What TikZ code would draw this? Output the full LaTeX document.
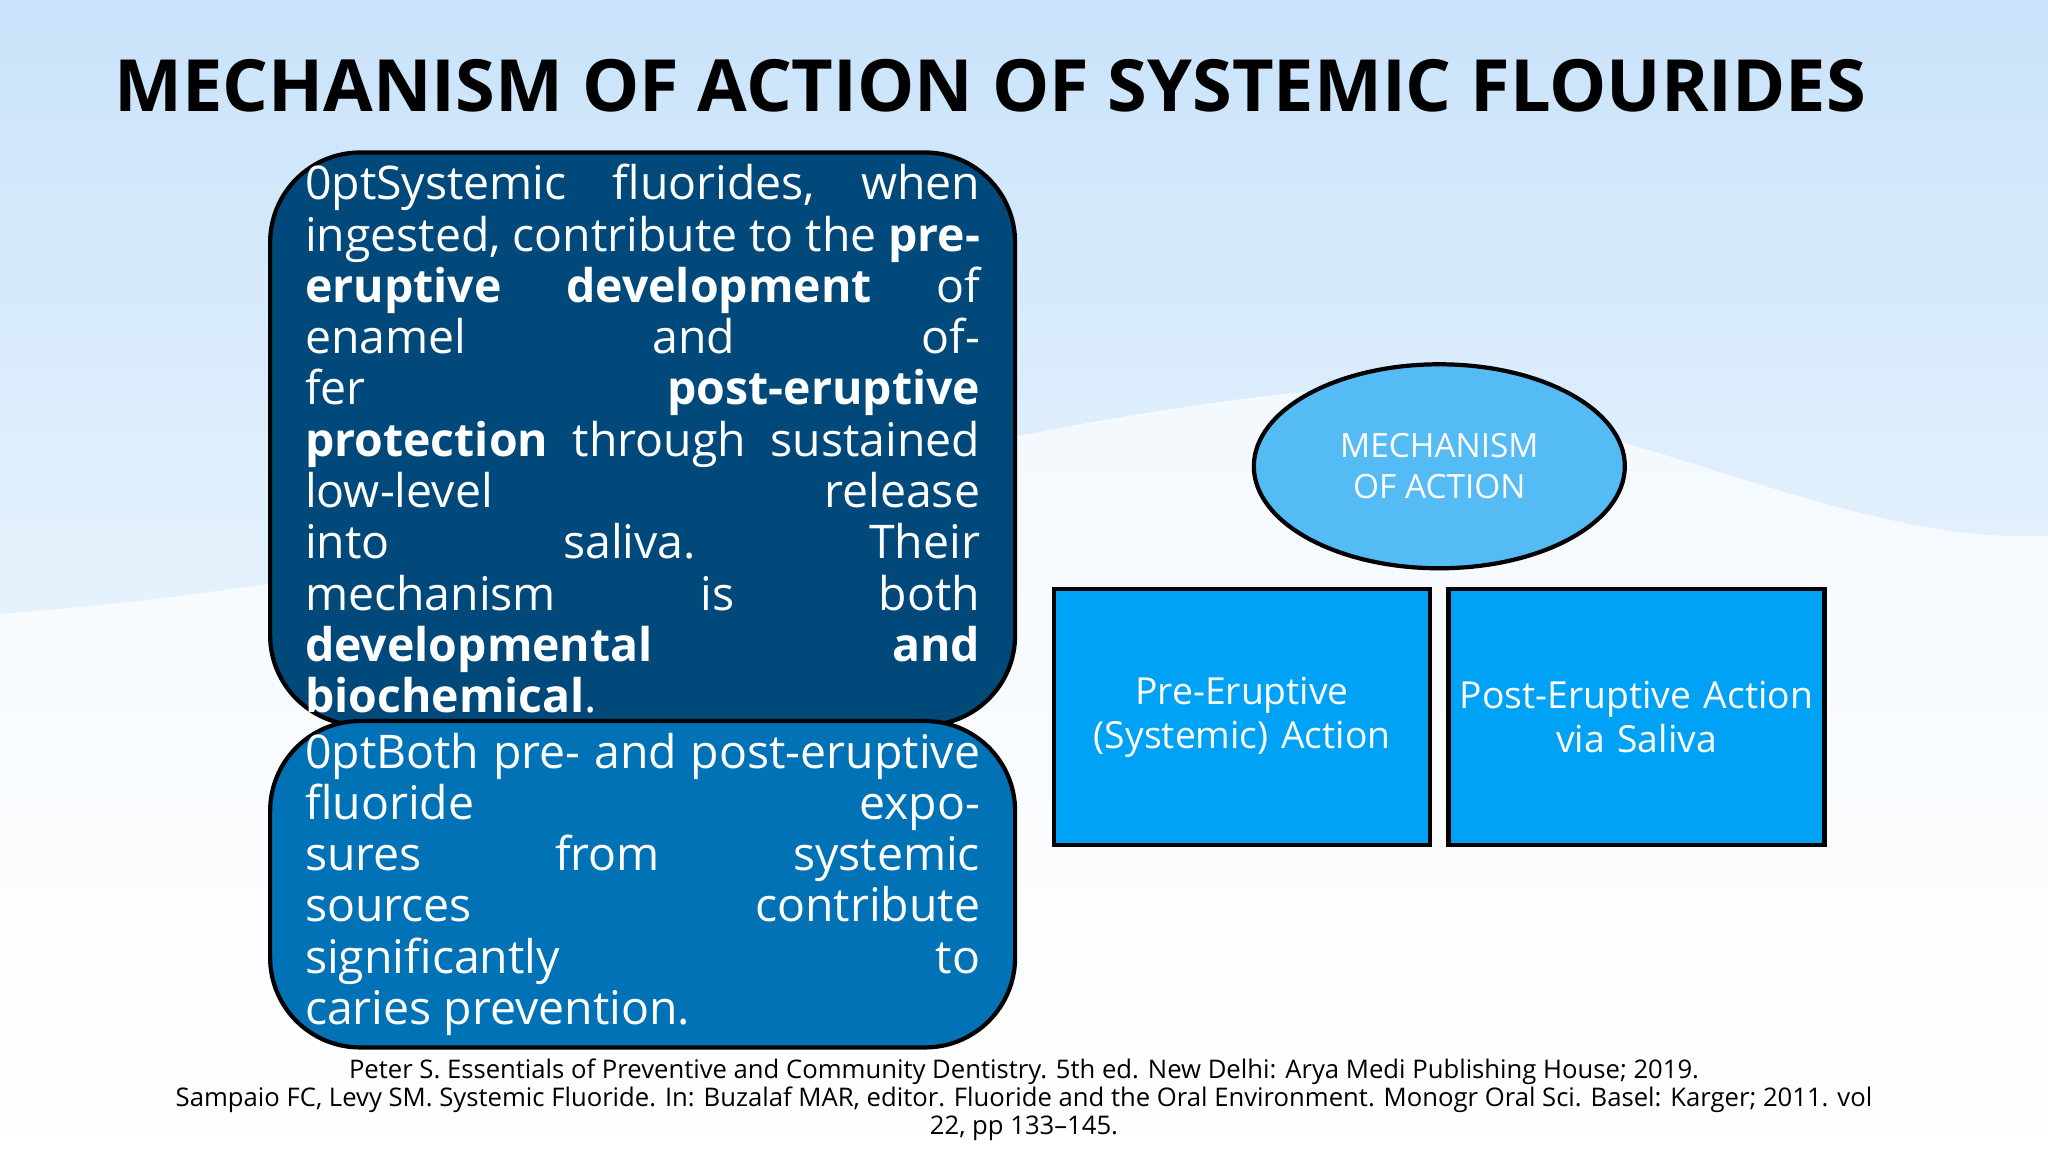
\documentclass[tikz,border=0pt]{standalone}
\usepackage{fontspec}
\setmainfont{Open Sans}
\usetikzlibrary{positioning,shapes.geometric}
\definecolor{skytop}{HTML}{C9E3FA}
\definecolor{deepblue}{HTML}{00497A}
\definecolor{midblue}{HTML}{0072B5}
\definecolor{ovalblue}{HTML}{55BBF5}
\definecolor{boxblue}{HTML}{00A2F5}

\begin{document}
\begin{tikzpicture}[
    x=0.013061cm,y=-0.013061cm,
    panel/.style={rectangle,rounded corners=0.9cm,draw=black,line width=1.2pt,text=white,
      minimum width=7.45cm,text width=6.75cm,align=justify,
      font=\fontsize{13.2}{14.6}\selectfont\frenchspacing\hyphenpenalty=10000},
    action/.style={rectangle,draw=black,line width=1.2pt,fill=boxblue,text=white,inner sep=0pt,
      minimum width=3.76cm,minimum height=2.56cm,text width=3.6cm,align=center,
      font=\fontsize{10.6}{12.6}\selectfont},
  ]
% background
\useasboundingbox (0,0) rectangle (1568,882);
\shade[top color=skytop,bottom color=white] (0,0) rectangle (1568,882);
\fill[white,opacity=0.7] (0,470) .. controls (400,440) and (700,330) .. (1000,300)
  .. controls (1200,290) and (1400,420) .. (1568,410) -- (1568,882) -- (0,882) -- cycle;

\node (title) [anchor=west,font=\fontsize{20.5}{24}\selectfont\bfseries] at (78,66)
  {MECHANISM OF ACTION OF SYSTEMIC FLOURIDES};

\node (summary) [panel,fill=deepblue,minimum height=5.47cm] at (492,336) {
  Systemic fluorides, when\linebreak ingested, contribute to the \textbf{pre-\linebreak eruptive development} of\linebreak
  enamel and offer \textbf{post-eruptive}\linebreak \textbf{protection} through sustained\linebreak low-level release into
  saliva. Their\linebreak mechanism is both\linebreak \textbf{developmental and}\linebreak \textbf{biochemical}.};

\node (both) [panel,fill=midblue,minimum height=3.2cm] at (492,677) {
  Both pre- and post-eruptive\linebreak fluoride exposures from systemic\linebreak sources contribute
  significantly to\linebreak caries prevention.};

\node (mechanism) [ellipse,draw=black,line width=1.2pt,fill=ovalblue,text=white,
  minimum width=3.71cm,minimum height=2.04cm,align=center,
  font=\fontsize{9.5}{11.8}\selectfont] at (1102,357) {MECHANISM\\OF ACTION};

\node (pre) [action] at (951,549) {Pre-Eruptive\\(Systemic) Action};
\node (post) [action] at (1253,549) {Post-Eruptive Action\\via Saliva};

\node (refs) [align=center,font=\fontsize{7.3}{8.1}\selectfont] at (784,842) {
  Peter S. Essentials of Preventive and Community Dentistry. 5th ed. New Delhi: Arya Medi Publishing House; 2019.\\
  Sampaio FC, Levy SM. Systemic Fluoride. In: Buzalaf MAR, editor. Fluoride and the Oral Environment. Monogr Oral Sci. Basel: Karger; 2011. vol\\
  22, pp 133–145.};
\end{tikzpicture}
\end{document}
